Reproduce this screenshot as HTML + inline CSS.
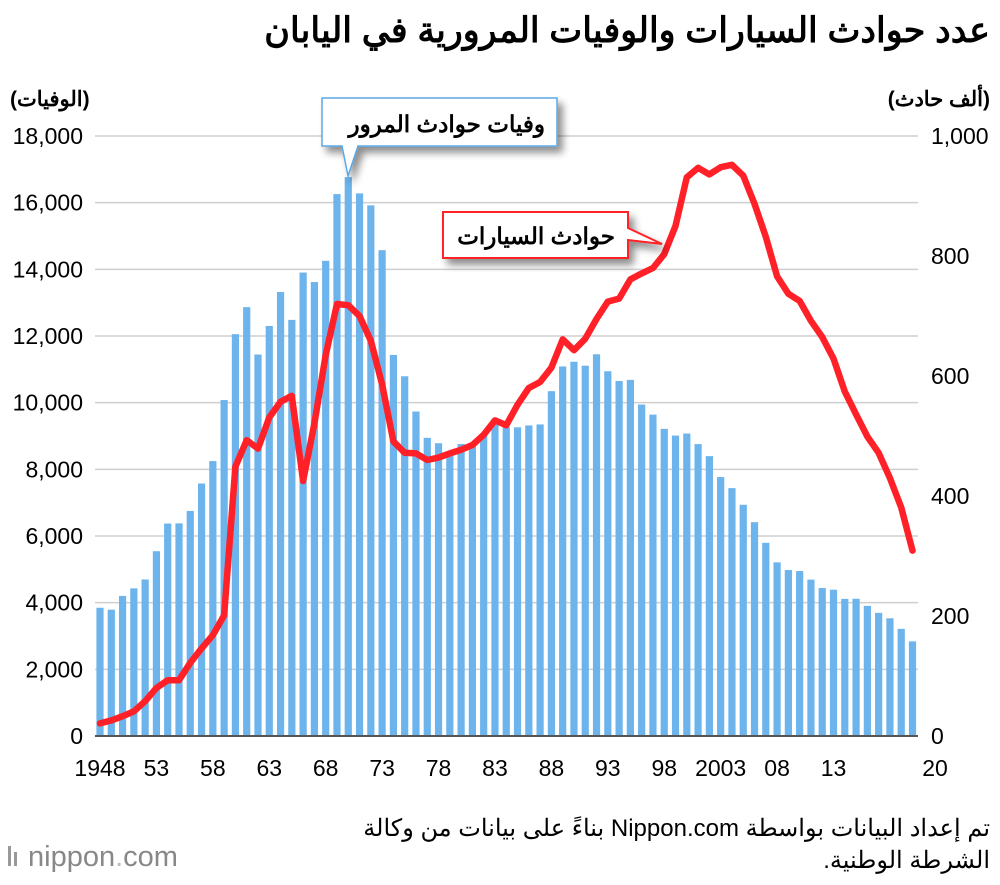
<!DOCTYPE html>
<html><head><meta charset="utf-8">
<style>
body{margin:0;background:#fff;width:1000px;height:880px;overflow:hidden;font-family:"Liberation Sans","Noto Sans CJK SC",sans-serif;}
svg text{font-family:"Liberation Sans","Noto Sans CJK SC",sans-serif;}
</style></head>
<body>
<svg id="chart" width="1000" height="880">
<defs>
<filter id="sh" x="-20%" y="-20%" width="150%" height="180%"><feGaussianBlur in="SourceAlpha" stdDeviation="4"/><feOffset dx="5" dy="6"/><feComponentTransfer><feFuncA type="linear" slope="0.45"/></feComponentTransfer><feMerge><feMergeNode/><feMergeNode in="SourceGraphic"/></feMerge></filter>
</defs>
<text x="990" y="42" text-anchor="start" font-size="35" font-weight="bold" fill="#000" direction="rtl">عدد حوادث السيارات والوفيات المرورية في اليابان</text>
<text x="10" y="106" font-size="21" font-weight="bold">(الوفيات)</text>
<text x="990" y="106" text-anchor="end" font-size="21" font-weight="bold">(ألف حادث)</text>
<g id="grid"></g><g id="bars"></g><g id="axes"></g>
<path id="line" fill="none" stroke="#ff2028" stroke-width="6.5" stroke-linejoin="round" stroke-linecap="round"/>
<g filter="url(#sh)">
<path d="M322,98 H557 V146 H358 L348,176 L342,146 H322 Z" fill="#fff" stroke="#5aa8e6" stroke-width="1.5"/>
</g>
<text x="545" y="132" text-anchor="end" font-size="23" font-weight="bold">وفيات حوادث المرور</text>
<g filter="url(#sh)">
<path d="M443,212 H628 V228 L662,244 L628,240 V258 H443 Z" fill="#fff" stroke="#ff2028" stroke-width="2"/>
</g>
<text x="615" y="244" text-anchor="end" font-size="23" font-weight="bold">حوادث السيارات</text>
<text x="990" y="836" text-anchor="start" font-size="24" direction="rtl">تم إعداد البيانات بواسطة Nippon.com بناءً على بيانات من وكالة</text>
<text x="990" y="868" text-anchor="start" font-size="24" direction="rtl">الشرطة الوطنية.</text>
<g>
<rect x="8" y="846" width="3" height="20" fill="#999"/><rect x="14" y="852" width="3" height="14" fill="#999"/>
<text x="28" y="866" font-size="29" fill="#888">nippon<tspan fill="#bbb">.</tspan>com</text>
</g>
</svg>
<script>
const years=[];for(let y=1948;y<=2020;y++)years.push(y);
const deaths=[3848,3790,4202,4429,4696,5544,6374,6379,6751,7575,8248,10079,12055,12865,11445,12301,13318,12484,13904,13618,14256,16257,16765,16278,15918,14574,11432,10792,9734,8945,8783,8466,8760,8719,9073,9520,9262,9261,9317,9347,10344,11086,11227,11109,11452,10942,10649,10684,9943,9642,9214,9012,9073,8757,8396,7768,7436,6937,6415,5796,5209,4979,4948,4691,4438,4388,4113,4117,3904,3694,3532,3215,2839];
const accidents=[21,26,33,41,58,80,93,93,122,146,168,201,449,493,479,531,557,567,425,521,635,720,718,700,659,586,491,472,471,460,464,471,477,485,502,526,518,552,580,590,614,661,643,662,695,724,729,761,771,780,803,850,931,947,936,948,952,934,887,832,766,737,725,692,665,629,574,536,499,472,430,381,309];
const leftTicks=[0,2000,4000,6000,8000,10000,12000,14000,16000,18000];
const rightTicks=[0,200,400,600,800,1000];
const xLabels=[[1948,"1948"],[1953,"53"],[1958,"58"],[1963,"63"],[1968,"68"],[1973,"73"],[1978,"78"],[1983,"83"],[1988,"88"],[1993,"93"],[1998,"98"],[2003,"2003"],[2008,"08"],[2013,"13"],[2020,"20"]];
const NS="http://www.w3.org/2000/svg";
const x0=100,step=(912.5-100)/72,yB=736,yT=136;
const xs=yr=>x0+(yr-1948)*step;
const yl=v=>yB-(v/18000)*(yB-yT);
const yr_=v=>yB-(v/1000)*(yB-yT);
function mk(t,a,p){const e=document.createElementNS(NS,t);for(const k in a)e.setAttribute(k,a[k]);p.appendChild(e);return e;}
const grid=document.getElementById('grid'),bars=document.getElementById('bars'),axes=document.getElementById('axes');
leftTicks.forEach(v=>{
 if(v>0){const l=mk('line',{x1:95,x2:918,y1:yl(v),y2:yl(v),stroke:'#cfcfcf','stroke-width':1.5},grid);
 
 }
 const t=mk('text',{x:83,y:yl(v)+8,'text-anchor':'end','font-size':23},axes);t.textContent=v.toLocaleString('en-US');
 
 
});
rightTicks.forEach(v=>{
 const t=mk('text',{x:931,y:yr_(v)+8,'font-size':23},axes);t.textContent=v.toLocaleString('en-US');
 
 
});
deaths.forEach((d,i)=>{
 const cx=xs(years[i]);
 const r=mk('rect',{x:cx-3.6,y:yl(d),width:7.2,height:yB-yl(d),fill:'#6cb4eb'},bars);
 
 
});
const ax=mk('line',{x1:95,x2:918,y1:yB,y2:yB,stroke:'#555','stroke-width':2},axes);


xLabels.forEach(([yr,s])=>{
 const px=yr===2020?935:xs(yr);
 const t=mk('text',{x:px,y:776,'text-anchor':'middle','font-size':23},axes);t.textContent=s;
 
 
});
document.getElementById('line').setAttribute('d',accidents.map((a,i)=>(i?'L':'M')+xs(years[i]).toFixed(1)+','+yr_(a).toFixed(1)).join(' '));
</script>
</body></html>
